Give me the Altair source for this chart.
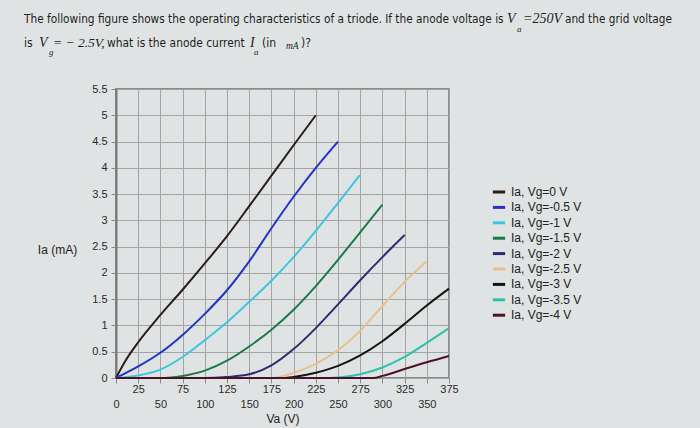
import altair as alt
import pandas as pd

# ---------------- data ----------------
series_names = ["Ia, Vg=0 V", "Ia, Vg=-0.5 V", "Ia, Vg=-1 V", "Ia, Vg=-1.5 V", "Ia, Vg=-2 V",
                "Ia, Vg=-2.5 V", "Ia, Vg=-3 V", "Ia, Vg=-3.5 V", "Ia, Vg=-4 V"]
colors = ["#2b1c15", "#2233cc", "#3cc6e0", "#1b7a46", "#2f2b72",
          "#e6c18e", "#141414", "#2cc2ad", "#4a1228"]

va_0 = [0, 10, 25, 50, 75, 100, 125, 150, 175, 200, 225]
ia_0 = [0, 0.31, 0.68, 1.2, 1.68, 2.18, 2.7, 3.27, 3.85, 4.43, 5.0]
va_1 = [0, 25, 50, 75, 100, 125, 150, 175, 200, 225, 250]
ia_1 = [0, 0.22, 0.48, 0.82, 1.22, 1.67, 2.22, 2.85, 3.45, 4.0, 4.5]
va_2 = [0, 25, 50, 75, 100, 125, 150, 175, 200, 225, 250, 275]
ia_2 = [0, 0.05, 0.16, 0.4, 0.72, 1.06, 1.45, 1.85, 2.3, 2.8, 3.33, 3.87]
va_3 = [0, 50, 75, 100, 125, 150, 175, 200, 225, 250, 275, 300]
ia_3 = [0, 0, 0.04, 0.14, 0.33, 0.6, 0.92, 1.3, 1.75, 2.25, 2.77, 3.3]
va_4 = [0, 100, 125, 150, 175, 200, 225, 250, 275, 300, 325]
ia_4 = [0, 0, 0.02, 0.07, 0.24, 0.55, 0.95, 1.4, 1.86, 2.3, 2.72]
va_5 = [0, 175, 200, 225, 250, 275, 300, 325, 350]
ia_5 = [0, 0, 0.1, 0.27, 0.53, 0.9, 1.37, 1.83, 2.22]
va_6 = [0, 190, 200, 225, 250, 275, 300, 325, 350, 375]
ia_6 = [0, 0, 0.02, 0.1, 0.23, 0.43, 0.7, 1.03, 1.38, 1.7]
va_7 = [0, 240, 250, 275, 300, 325, 350, 375]
ia_7 = [0, 0, 0.01, 0.07, 0.2, 0.4, 0.67, 0.95]
va_8 = [0, 290, 300, 325, 350, 375]
ia_8 = [0, 0, 0.04, 0.17, 0.3, 0.42]

x_ticks = [0, 25, 50, 75, 100, 125, 150, 175, 200, 225, 250, 275, 300, 325, 350, 375]
y_ticks = [0, 0.5, 1, 1.5, 2, 2.5, 3, 3.5, 4, 4.5, 5, 5.5]

# question text pieces (text, left x, baseline y, font size) in page pixels
sans_text = ["The following figure shows the operating characteristics of a triode. If the anode voltage is",
             "and the grid voltage", "is", "what is the anode current", "(in", ")?"]
sans_x = [24, 565, 24, 107, 262, 301]
sans_y = [22.5, 22.5, 46.5, 46.5, 46.5, 46.5]
sans_s = [11.75, 11.7, 12.0, 11.9, 12.0, 12.0]
math_text = ["V", "=250V", "V", "= \u2212 2.5V,", "I"]
math_x = [507, 523, 39, 53, 250]
math_y = [22.5, 22.5, 46.5, 46.5, 46.5]
math_s = [14, 14, 14, 13.5, 14]
sub_text = ["a", "g", "a", "mA"]
sub_x = [517, 49, 254, 286]
sub_y = [32, 55, 55, 48.5]
sub_s = [9, 9, 9, 9.5]

# ---------------- layout ----------------
L, T, W, H = 116, 89, 333, 289
SANS = "Liberation Sans Narrow, DejaVu Sans Condensed, Liberation Sans, sans-serif"
SERIF = "Liberation Serif, DejaVu Serif, serif"

VA = [va_0, va_1, va_2, va_3, va_4, va_5, va_6, va_7, va_8]
IA = [ia_0, ia_1, ia_2, ia_3, ia_4, ia_5, ia_6, ia_7, ia_8]
rows = []
for k, (name, va, ia) in enumerate(zip(series_names, VA, IA)):
    for v, i in zip(va, ia):
        rows.append({"Va": v, "Ia": i, "series": name, "k": k})
df = pd.DataFrame(rows)

lines = alt.Chart(df).mark_line(strokeWidth=2, interpolate="monotone").encode(
    x=alt.X("Va:Q", scale=alt.Scale(domain=[0, 375], nice=False, zero=False),
            axis=alt.Axis(values=x_ticks, title="Va (V)",
                          labelExpr="datum.value % 50 == 0 ? ['', datum.label] : datum.label",
                          labelOverlap=False, labelFlush=False, labelLineHeight=15,
                          labelFont="Liberation Sans", labelFontSize=11, labelColor="#2a2a2a",
                          labelPadding=0, tickSize=5, tickColor="#8a8a8a",
                          gridColor="#a4a4a4", gridWidth=1, domain=False,
                          titleFont="Liberation Sans", titleFontSize=12, titleFontWeight="normal",
                          titleColor="#222", titleY=40, titleBaseline="middle")),
    y=alt.Y("Ia:Q", scale=alt.Scale(domain=[0, 5.5], nice=False),
            axis=alt.Axis(values=y_ticks, title="Ia (mA)", labelExpr="'' + datum.value",
                          labelFont="Liberation Sans", labelFontSize=11, labelColor="#2a2a2a",
                          labelPadding=4, tickSize=5, tickColor="#8a8a8a",
                          gridColor="#a4a4a4", gridWidth=1, domainColor="#7a7a7a", domainWidth=2,
                          titleAngle=0, titleX=-59, titleY=160, titleAlign="center",
                          titleBaseline="middle", titleFont="Liberation Sans", titleFontSize=12,
                          titleFontWeight="normal", titleColor="#222")),
    color=alt.Color("series:N", sort=series_names,
                    scale=alt.Scale(domain=series_names, range=colors),
                    legend=alt.Legend(title=None, orient="none", legendX=375, legendY=95,
                                      symbolType="stroke", symbolStrokeWidth=3, symbolSize=150,
                                      labelFont="Liberation Sans", labelFontSize=12,
                                      labelColor="#222", rowPadding=1.4, labelOffset=4)),
    order=alt.Order("k:Q"),
)


def text_layer(texts, xs, ys, sizes, font, style):
    d = pd.DataFrame({"t": texts, "px": [x - L for x in xs], "py": [y - T for y in ys],
                      "s": sizes})
    return alt.Chart(d).mark_text(align="left", baseline="alphabetic", font=font,
                                  fontStyle=style, color="#1e1e1e").encode(
        x=alt.X("px:Q", scale=None, axis=None),
        y=alt.Y("py:Q", scale=None, axis=None),
        size=alt.Size("s:Q", scale=None, legend=None),
        text="t:N",
    )


sans_layer = text_layer(sans_text, sans_x, sans_y, sans_s, SANS, "normal")
math_layer = text_layer(math_text, math_x, math_y, math_s, SERIF, "italic")
sub_layer = text_layer(sub_text, sub_x, sub_y, sub_s, SERIF, "italic")

chart = alt.layer(lines, sans_layer, math_layer, sub_layer).properties(
    width=W, height=H, autosize="none",
    padding={"left": L, "top": T, "right": 700 - L - W, "bottom": 428 - T - H},
    background="#e0e3e3",
).configure_view(stroke="#8a8a8a", strokeWidth=2)

chart.save("out.html", embed_options={"renderer": "svg", "actions": False})
